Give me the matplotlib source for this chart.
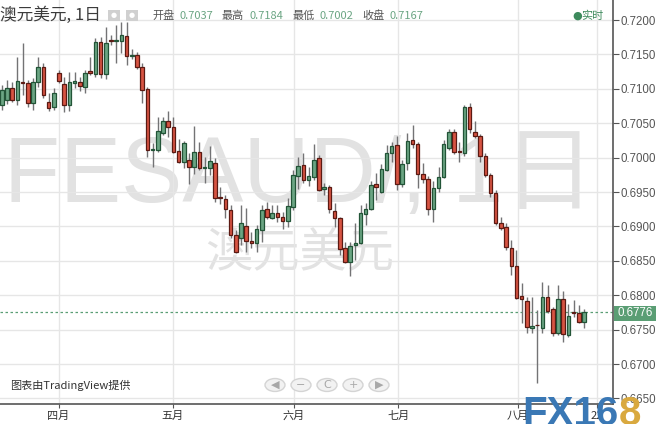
import matplotlib
matplotlib.use("Agg")
import matplotlib.pyplot as plt
from matplotlib.patches import Circle, FancyBboxPatch

# daily OHLC (oldest first)
opens = [0.7076, 0.7084, 0.7101, 0.7084, 0.7110, 0.7108, 0.7079, 0.7110, 0.7132, 0.7081,
         0.7074, 0.7123, 0.7107, 0.7076, 0.7109, 0.7110, 0.7103, 0.7126, 0.7122, 0.7168,
         0.7122, 0.7171, 0.7170, 0.7169, 0.7177, 0.7148, 0.7149, 0.7132, 0.7100, 0.7011,
         0.7011, 0.7036, 0.7053, 0.7045, 0.7010, 0.6994, 0.6997, 0.6986, 0.7008, 0.6985,
         0.6985, 0.6992, 0.6942, 0.6940, 0.6924, 0.6887, 0.6883, 0.6901, 0.6879, 0.6876,
         0.6895, 0.6925, 0.6912, 0.6919, 0.6914, 0.6908, 0.6928, 0.6973, 0.6989, 0.6967,
         0.6972, 0.6999, 0.6954, 0.6957, 0.6922, 0.6912, 0.6869, 0.6848, 0.6873, 0.6876,
         0.6918, 0.6925, 0.6962, 0.6950, 0.6982, 0.7007, 0.7018, 0.6962, 0.6992, 0.7026,
         0.7020, 0.6976, 0.6969, 0.6925, 0.6956, 0.6972, 0.7014, 0.7037, 0.7009, 0.7007,
         0.7074, 0.7037, 0.7031, 0.7002, 0.6975, 0.6949, 0.6905, 0.6899, 0.6869, 0.6842,
         0.6799, 0.6792, 0.6752, 0.6757, 0.6752, 0.6797, 0.6780, 0.6745, 0.6794, 0.6742,
         0.6775, 0.6774, 0.6761]
highs = [0.7106, 0.7113, 0.7110, 0.7146, 0.7167, 0.7113, 0.7116, 0.7146, 0.7137, 0.7094,
         0.7101, 0.7127, 0.7117, 0.7124, 0.7124, 0.7117, 0.7127, 0.7146, 0.7174, 0.7175,
         0.7190, 0.7178, 0.7193, 0.7197, 0.7197, 0.7158, 0.7153, 0.7137, 0.7103, 0.7021,
         0.7059, 0.7059, 0.7068, 0.7059, 0.7027, 0.7024, 0.7007, 0.7046, 0.7023, 0.7001,
         0.7017, 0.6999, 0.6957, 0.6946, 0.6931, 0.6895, 0.6931, 0.6927, 0.6892, 0.6902,
         0.6931, 0.6935, 0.6931, 0.6931, 0.6921, 0.6941, 0.6982, 0.7001, 0.7007, 0.6986,
         0.7020, 0.7004, 0.6963, 0.6960, 0.6934, 0.6914, 0.6877, 0.6877, 0.6905, 0.6931,
         0.6934, 0.6966, 0.6978, 0.6991, 0.7018, 0.7023, 0.7031, 0.6997, 0.7036, 0.7047,
         0.7023, 0.6992, 0.6973, 0.6966, 0.6986, 0.7026, 0.7042, 0.7042, 0.7023, 0.7076,
         0.7079, 0.7053, 0.7034, 0.7007, 0.6978, 0.6953, 0.6914, 0.6905, 0.6880, 0.6866,
         0.6818, 0.6797, 0.6797, 0.6778, 0.6819, 0.6815, 0.6783, 0.6815, 0.6806, 0.6787,
         0.6793, 0.6786, 0.6780]
lows = [0.7069, 0.7078, 0.7081, 0.7076, 0.7091, 0.7074, 0.7069, 0.7103, 0.7087, 0.7068,
        0.7069, 0.7108, 0.7066, 0.7068, 0.7101, 0.7097, 0.7094, 0.7120, 0.7117, 0.7116,
        0.7114, 0.7164, 0.7137, 0.7152, 0.7135, 0.7143, 0.7129, 0.7079, 0.7001, 0.6986,
        0.7008, 0.7033, 0.7030, 0.7007, 0.6992, 0.6985, 0.6962, 0.6976, 0.6982, 0.6963,
        0.6975, 0.6935, 0.6933, 0.6912, 0.6883, 0.6861, 0.6873, 0.6863, 0.6869, 0.6863,
        0.6877, 0.6911, 0.6911, 0.6906, 0.6896, 0.6899, 0.6924, 0.6954, 0.6963, 0.6959,
        0.6967, 0.6951, 0.6946, 0.6919, 0.6899, 0.6858, 0.6847, 0.6828, 0.6851, 0.6874,
        0.6902, 0.6924, 0.6938, 0.6949, 0.6981, 0.6994, 0.6953, 0.6957, 0.6982, 0.7014,
        0.6956, 0.6963, 0.6917, 0.6906, 0.6950, 0.6970, 0.7011, 0.7005, 0.6994, 0.7002,
        0.7036, 0.7028, 0.6994, 0.6972, 0.6943, 0.6902, 0.6895, 0.6866, 0.6829, 0.6794,
        0.6760, 0.6745, 0.6745, 0.6672, 0.6745, 0.6774, 0.6741, 0.6742, 0.6732, 0.6739,
        0.6768, 0.6760, 0.6752]
closes = [0.7098, 0.7101, 0.7084, 0.7111, 0.7108, 0.7079, 0.7110, 0.7132, 0.7091, 0.7072,
          0.7094, 0.7111, 0.7076, 0.7110, 0.7111, 0.7104, 0.7123, 0.7123, 0.7168, 0.7122,
          0.7167, 0.7169, 0.7171, 0.7178, 0.7148, 0.7149, 0.7132, 0.7098, 0.7011, 0.7012,
          0.7039, 0.7053, 0.7045, 0.7008, 0.6994, 0.7021, 0.6986, 0.7008, 0.6985, 0.6986,
          0.6995, 0.6941, 0.6941, 0.6925, 0.6887, 0.6863, 0.6905, 0.6879, 0.6876, 0.6896,
          0.6924, 0.6914, 0.6919, 0.6914, 0.6908, 0.6930, 0.6975, 0.6988, 0.6967, 0.6973,
          0.6997, 0.6953, 0.6957, 0.6925, 0.6912, 0.6867, 0.6848, 0.6872, 0.6876, 0.6919,
          0.6925, 0.6960, 0.6957, 0.6983, 0.7007, 0.7017, 0.6962, 0.6991, 0.7024, 0.7020,
          0.6976, 0.6969, 0.6925, 0.6956, 0.6972, 0.7020, 0.7037, 0.7008, 0.7008, 0.7074,
          0.7042, 0.7031, 0.7002, 0.6975, 0.6949, 0.6905, 0.6898, 0.6870, 0.6842, 0.6796,
          0.6794, 0.6754, 0.6755, 0.6756, 0.6797, 0.6777, 0.6745, 0.6794, 0.6744, 0.6770,
          0.6774, 0.6761, 0.6776]

last_price = 0.6776
y_ticks = [0.6650, 0.6700, 0.6750, 0.6800, 0.6850, 0.6900, 0.6950, 0.7000,
           0.7050, 0.7100, 0.7150, 0.7200]
month_pos = [10.9, 32.9, 56.2, 76.3, 99.2, 114.5]
month_labels = ['四月', '五月', '六月', '七月', '八月', '22']

W, H = 656, 424
UP, UP_EDGE = '#6ba583', '#225437'
DN, DN_EDGE = '#d75442', '#5b1a13'
WICK = '#737375'
CJK = ['Noto Sans CJK SC', 'DejaVu Sans']


def fx(x):
    return x / W


def fy(y):
    return 1 - y / H


fig = plt.figure(figsize=(W / 100, H / 100), dpi=100)
ax = fig.add_axes([0, 20 / H, 613 / W, 404 / H])
ax.set_xlim(-0.36, 117.57)
ax.set_ylim(0.66419, 0.72291)

# grid
for p in y_ticks:
    ax.axhline(p, color='#e6e6e6', lw=1, zorder=0.5)
for m in month_pos:
    ax.axvline(m, color='#e6e6e6', lw=1, zorder=0.5)

# watermark
ax.text(4 / 613, (404 - 202) / 404, 'FESAUD/, 1日', transform=ax.transAxes,
        fontsize=66, color='#e2e2e2', family=['Liberation Sans', 'Noto Sans CJK SC'],
        ha='left', va='baseline', zorder=0.2)
ax.text(300 / 613, (404 - 254) / 404, '澳元美元', transform=ax.transAxes,
        fontsize=34, color='#e2e2e2', family=CJK, ha='center', va='center', zorder=0.2)

# candles
idx = list(range(len(opens)))
ax.vlines(idx, lows, highs, color=WICK, lw=1, zorder=2)
for i in idx:
    o, c = opens[i], closes[i]
    up = c >= o
    bottom = min(o, c)
    h = max(abs(c - o), 0.00012)
    ax.bar(i, h, bottom=bottom, width=0.68, color=UP if up else DN,
           edgecolor=UP_EDGE if up else DN_EDGE, linewidth=0.9, zorder=3)

# last price line
ax.axhline(last_price, color='#5a9e74', lw=0.9, ls=(0, (2, 2)), zorder=1.5)

# axes styling
for s in ['left', 'top']:
    ax.spines[s].set_visible(False)
ax.spines['right'].set_color('#555555')
ax.spines['bottom'].set_color('#555555')
ax.spines['right'].set_linewidth(1.2)
ax.spines['bottom'].set_linewidth(1.2)
ax.yaxis.tick_right()
ax.set_yticks(y_ticks)
ax.set_yticklabels(['%.4f' % v for v in y_ticks])
ax.tick_params(axis='y', direction='out', length=4, pad=1.5, labelsize=8.3,
               colors='#555555', labelcolor='#555555')
ax.set_xticks(month_pos)
ax.set_xticklabels(month_labels, family=CJK)
ax.tick_params(axis='x', direction='out', length=3, pad=2, labelsize=8,
               colors='#555555', labelcolor='#333333')
for lab in ax.get_yticklabels():
    lab.set_family('Liberation Sans')

# last price tag
fig.patches.append(FancyBboxPatch((fx(614), fy(321)), fx(42), 15 / H, boxstyle='square,pad=0',
                                  transform=fig.transFigure, fc='#5a9e74', ec='none', zorder=5))
fig.text(fx(618), fy(313.5), '%.4f' % last_price, color='white', fontsize=8.3,
         family='Liberation Sans', va='center', ha='left', zorder=6)

# header
fig.text(fx(0), fy(15), '澳元美元, 1日', fontsize=12, color='#3c3c3c', family=CJK,
         va='center', ha='left')
for bx in [108, 126]:
    fig.patches.append(FancyBboxPatch((fx(bx), fy(21)), fx(12), 11 / H, boxstyle='square,pad=0',
                                      transform=fig.transFigure, fc='#d0d0d0', ec='none'))
    fig.text(fx(bx + 6), fy(15.5), '●', fontsize=5, color='white', family='DejaVu Sans',
             ha='center', va='center')
header = [(152, '开盘', '#555555'), (180, '0.7037', '#6ba583'),
          (222, '最高', '#555555'), (250, '0.7184', '#6ba583'),
          (293, '最低', '#555555'), (320, '0.7002', '#6ba583'),
          (362, '收盘', '#555555'), (390, '0.7167', '#6ba583')]
for x, t, col in header:
    fig.text(fx(x), fy(16), t, fontsize=8, color=col, family=CJK, va='center', ha='left')
fig.text(fx(572), fy(16), '●', fontsize=8, color='#3d8a5c', family='DejaVu Sans',
         va='center', ha='left')
fig.text(fx(581), fy(16), '实时', fontsize=8, color='#3d8a5c', family=CJK,
         va='center', ha='left')

# footer
fig.text(fx(10), fy(385), '图表由TradingView提供', fontsize=8, color='#333333', family=CJK,
         va='center', ha='left')
for cx, sym in zip([275, 301, 327, 353, 379], ['◀', '−', 'C', '+', '▶']):
    fig.patches.append(Circle((fx(cx), fy(385)), radius=fx(10), transform=fig.transFigure,
                              fc='#f2f2f2', ec='#d4d4d4', lw=1))
    fig.text(fx(cx), fy(385), sym, fontsize=8, color='#a8a8a8', family='DejaVu Sans',
             ha='center', va='center')

# FX168 logo
logo = fig.text(fx(522), fy(425), 'FX16', fontsize=29, color='#3a78b5', fontweight='bold',
                family='Liberation Sans', ha='left', va='baseline', zorder=7)
fig.canvas.draw()
x_end = logo.get_window_extent().x1
fig.text(x_end / W, fy(425), '8', fontsize=29, color='#d9a93f', fontweight='bold',
         family='Liberation Sans', ha='left', va='baseline', zorder=7)

fig.savefig('out.png', dpi=100)
